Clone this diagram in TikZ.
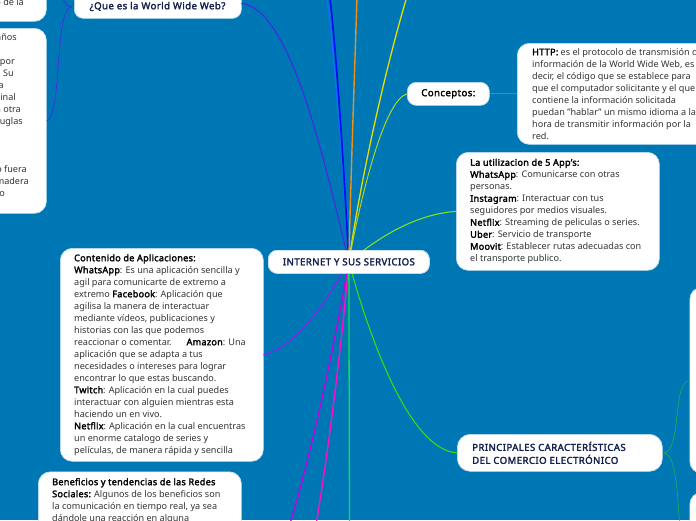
\documentclass[tikz,border=0pt]{standalone}
\usepackage{fontspec}
\setmainfont{Noto Sans}[BoldFont={Noto Sans},BoldFeatures={FakeBold=2.4,LetterSpace=3}]
\newfontfamily\titlefont{Noto Sans}[FakeBold=2.4,LetterSpace=4.5]
\usetikzlibrary{calc}
\definecolor{bgblue}{HTML}{0077B5}
\definecolor{navy}{HTML}{14214F}
\definecolor{bodytxt}{HTML}{333333}
\definecolor{edge}{HTML}{BFDDED}
\definecolor{linkwww}{HTML}{4A22E8}
\definecolor{linkcom}{HTML}{1FB050}
\definecolor{linkltblue}{HTML}{1070F0}
\definecolor{linkblue}{HTML}{0A10F5}
\definecolor{linkorange}{HTML}{F09018}
\definecolor{linkyellow}{HTML}{E8DC00}
\definecolor{linkolive}{HTML}{A8D820}
\definecolor{linklime}{HTML}{80E020}
\definecolor{linkviolet}{HTML}{8A1FF0}
\definecolor{linkpurple}{HTML}{C000E8}
\definecolor{linkmagenta}{HTML}{FF10C8}
\definecolor{linkgreen}{HTML}{10E050}
\definecolor{linkgrass}{HTML}{30E010}
\tikzset{x=1pt,y=-1pt,
 box/.style={draw=edge,line width=.7pt,fill=white,rounded corners=12pt,inner sep=0pt,anchor=north west},
 pill/.style={draw=edge,line width=.7pt,fill=white,rounded corners=9pt,inner sep=0pt,anchor=north west},
 txt/.style={inner sep=0pt,align=left,font=\fontsize{9.1}{12}\selectfont,text=bodytxt},
 frag/.style={txt,anchor=base east},
 ttl/.style={inner sep=0pt,font=\fontsize{9.6}{13}\selectfont\titlefont,text=navy,align=left},
 link/.style={line width=#1,line cap=round},link/.default=.8pt,
 sub/.style={line width=.6pt}}
\newcommand{\bt}[1]{{\bfseries\color{black}#1}}
\begin{document}
\begin{tikzpicture}
\useasboundingbox (0,0) rectangle (696,520);
\fill[bgblue] (0,0) rectangle (696,520);
% all boxes, empty, so that connectors can use their names
\node[pill,minimum width=161pt,minimum height=23pt] (hub) at (268,250) {};
\node[pill,minimum width=167pt,minimum height=30pt] (www) at (74,-12) {};
\node[pill,minimum width=82pt,minimum height=23pt] (con) at (407,82) {};
\node[box,minimum width=203pt,minimum height=101pt] (http) at (517,43) {};
\node[box,minimum width=203pt,minimum height=118pt] (apps) at (456,152) {};
\node[box,minimum width=203pt,minimum height=213pt] (cont) at (60,248) {};
\node[box,minimum width=203pt,minimum height=100pt] (ben) at (38,471.5) {};
\node[pill,minimum width=205pt,minimum height=37pt,rounded corners=13pt] (com) at (457,434) {};
\node[box,minimum width=80pt,minimum height=41pt] (lefta) at (-34,-20) {};
\node[box,minimum width=80pt,minimum height=185pt] (leftb) at (-34,28) {};
\node[box,minimum width=80pt,minimum height=186pt] (righta) at (689.5,287) {};
\node[box,minimum width=80pt,minimum height=80pt] (rightb) at (689.5,492) {};
% free ends off the picture and junctions
\coordinate (top1) at (327,-2);
\coordinate (top2) at (330,-2);
\coordinate (top3) at (357,-2);
\coordinate (top4) at (406.5,-2);
\coordinate (bot1) at (290.5,522);
\coordinate (bot2) at (316.5,522);
\coordinate (bot3) at (349.5,522);
\coordinate (wwwj) at (71,7);
\coordinate (upj) at (61,-4);
\coordinate (comj) at (664,453);
\coordinate (rbj) at (679.5,522);
% main connectors, behind the central node
\draw[link=1pt,color=linkwww] (hub.center) .. controls (322,150) and (290,10) .. (www.east);
\draw[link=1.5pt,color=linkltblue] (hub.center) .. controls (343,170) and (335,60) .. (top1);
\draw[link=1.7pt,color=linkblue] (hub.center) .. controls (344,170) and (337,60) .. (top2);
\draw[link=1.4pt,color=linkorange] (hub.center) .. controls (351,170) and (355,60) .. (top3);
\draw[link=1.3pt,color=linkyellow] (hub.center) .. controls (362,170) and (388,60) .. (top4);
\draw[link=1pt,color=linkolive] (hub.center) .. controls (362,190) and (385,100) .. (con.west);
\draw[link=1.1pt,color=linklime] (hub.center) .. controls (385,232) and (420,214) .. (apps.west);
\draw[link=1.1pt,color=linkviolet] (hub.center) .. controls (330,295) and (300,345) .. (cont.east);
\draw[link=1.3pt,color=linkpurple] (hub.center) .. controls (335,340) and (315,440) .. (bot1);
\draw[link=1.4pt,color=linkmagenta] (hub.center) .. controls (342,340) and (330,440) .. (bot2);
\draw[link=1.3pt,color=linkgreen] (hub.center) -- (bot3);
\draw[link=1.1pt,color=linkgrass] (hub.center) .. controls (370,340) and (410,450) .. (com.west);
% secondary connectors
\draw[sub,color=linkwww] (www.west) -- (wwwj);
\draw[sub,color=linkwww] (wwwj) .. controls (66,6) and (64,1) .. (upj);
\draw[sub,color=linkwww] (wwwj) .. controls (55,8) and (62,115) .. (leftb.east);
\draw[sub,color=linkcom] (com.east) -- (comj);
\draw[sub,color=linkcom] (comj) .. controls (682,450) and (672,382) .. (righta.west);
\draw[sub,color=linkcom] (comj) .. controls (676,455) and (677,490) .. (rbj);
\draw[line width=.8pt,color=linkcom] (con.east) -- (http.west);
% redraw central node above the connectors
\node[pill,minimum width=161pt,minimum height=23pt] (hubtop) at (268,250) {};
% texts
\node[ttl,anchor=center] (hubt) at (hub.center) {INTERNET Y SUS SERVICIOS};
\node[ttl,anchor=center] (wwwt) at (157.5,6.5) {¿Que es la World Wide Web?};
\node[ttl,anchor=center,text=black] (cont2) at (con.center) {Conceptos:};
\node[ttl,anchor=west] (comt) at ([xshift=15pt]com.west) {PRINCIPALES CARACTERÍSTICAS\\DEL COMERCIO ELECTRÓNICO};
\node[txt,anchor=west] (httpt) at ([xshift=15pt]http.west) {\bt{HTTP:} es el protocolo de transmisión de\\información de la World Wide Web, es\\decir, el código que se establece para\\que el computador solicitante y el que\\contiene la información solicitada\\puedan "hablar" un mismo idioma a la\\hora de transmitir información por la\\red.};
\node[txt,anchor=west] (appst) at ([xshift=14pt]apps.west) {\bt{La utilizacion de 5 App's:}\\\bt{WhatsApp}: Comunicarse con otras\\personas.\\\bt{Instagram}: Interactuar con tus\\seguidores por medios visuales.\\\bt{Netflix}: Streaming de peliculas o series.\\\bt{Uber}: Servicio de transporte\\\bt{Moovit}: Establecer rutas adecuadas con\\el transporte publico.};
\node[txt,anchor=west] (contt) at ([xshift=14pt]cont.west) {\bt{Contenido de Aplicaciones:}\\\bt{WhatsApp}: Es una aplicación sencilla y\\agil para comunicarte de extremo a\\extremo \bt{Facebook}: Aplicación que\\agilisa la manera de interactuar\\mediante vídeos, publicaciones y\\historias con las que podemos\\reaccionar o comentar.\hspace{15pt}\bt{Amazon}: Una\\aplicación que se adapta a tus\\necesidades o intereses para lograr\\encontrar lo que estas buscando.\\\bt{Twitch}: Aplicación en la cual puedes\\interactuar con alguien mientras esta\\haciendo un en vivo.\\\bt{Netflix}: Aplicación en la cual encuentras\\un enorme catalogo de series y\\películas, de manera rápida y sencilla};
\node[txt,anchor=north west] (bent) at (52,478) {\bt{Beneficios y tendencias de las Redes}\\\bt{Sociales:} Algunos de los beneficios son\\la comunicación en tiempo real, ya sea\\dándole una reacción en alguna};
% fragments at the left edge
\node[frag] (f0) at (24,5) {o de la};
\node[frag] (f1) at (17,40) {años};
\node[frag] (f2) at (15,64) {por};
\node[frag] (f3) at (14,76) {. Su};
\node[frag] (f4) at (4,88) {a};
\node[frag] (f5) at (16,100) {inal};
\node[frag] (f6) at (21,112) {a otra};
\node[frag] (f7) at (23,124) {uglas};
\node[frag] (f8) at (27,172) {o fuera};
\node[frag] (f9) at (29,184) {madera};
\node[frag] (f10) at (5,196) {o};
\end{tikzpicture}
\end{document}
